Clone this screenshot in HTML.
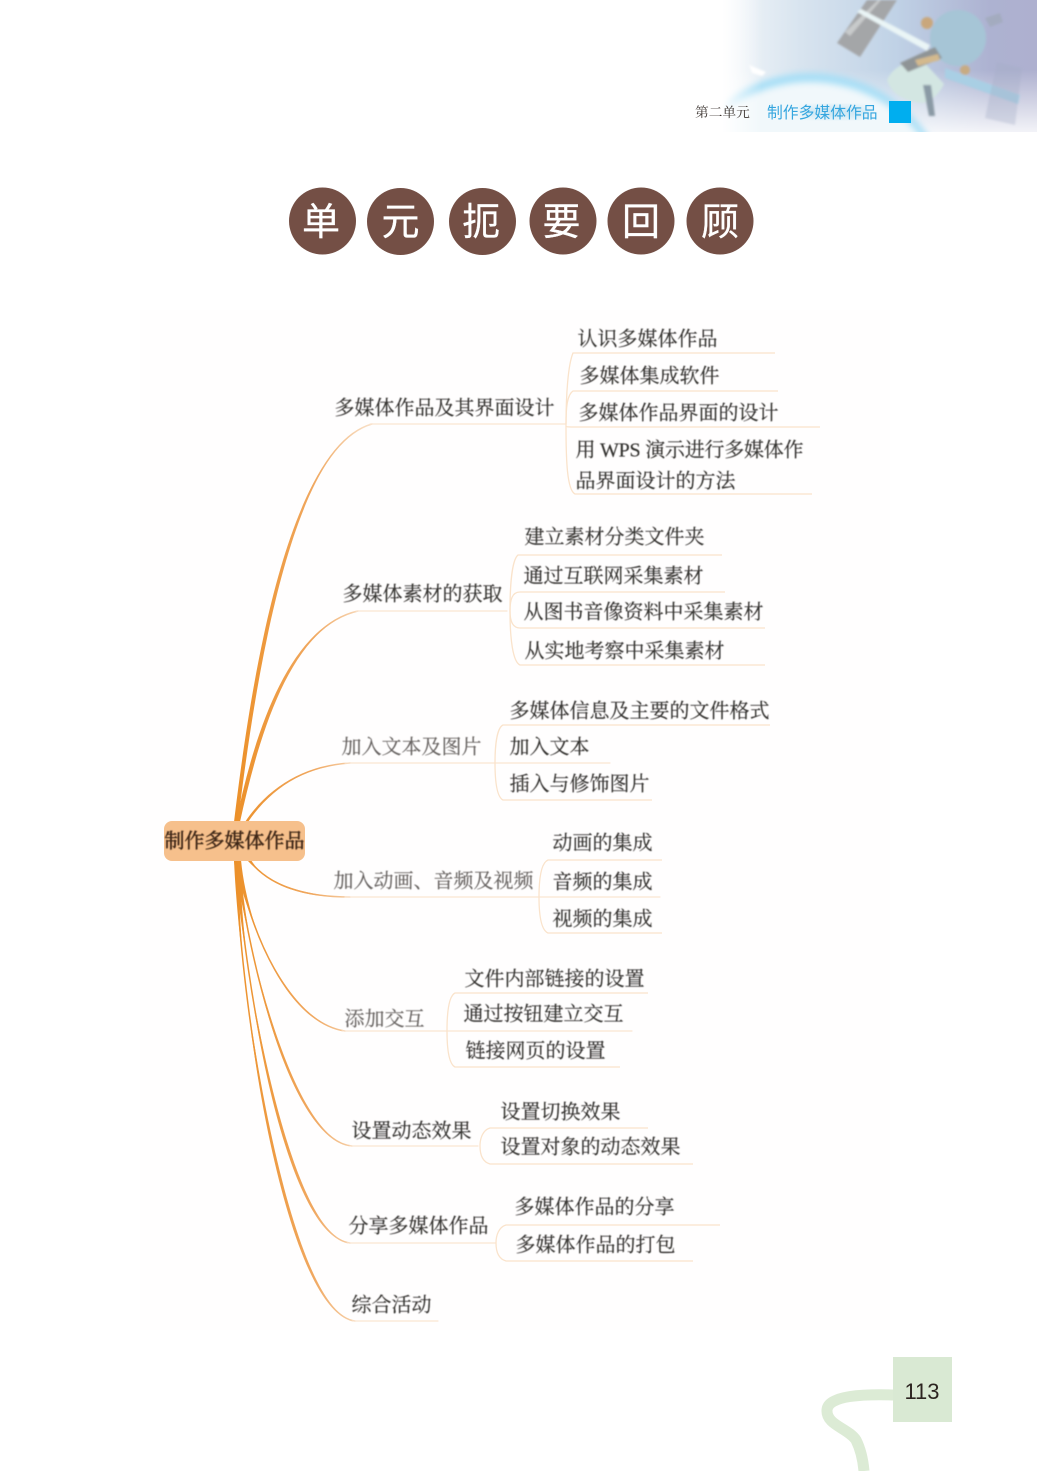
<!DOCTYPE html>
<html lang="zh-CN">
<head>
<meta charset="utf-8">
<title>单元扼要回顾</title>
<style>
html,body{margin:0;padding:0;background:#fff;width:1037px;height:1471px;overflow:hidden}
svg{display:block}
.t{font-family:"Liberation Serif","Noto Serif CJK SC",serif;font-size:20px;fill:#33302e;stroke:#33302e;stroke-width:.15}
.l{fill:#686462;stroke:#686462}
.c{font-family:"Liberation Sans","Noto Sans CJK SC",sans-serif;font-size:38px;fill:#fff;text-anchor:middle;stroke:#fff;stroke-width:.3}
.s{fill:none;stroke:#fae6d2;stroke-width:1.2;stroke-linecap:round}
.b{fill:none;stroke:#fae3cb;stroke-width:1.3}
</style>
</head>
<body>
<svg width="1037" height="1471" viewBox="0 0 1037 1471" xmlns="http://www.w3.org/2000/svg">
<defs>
<linearGradient id="fade" x1="0" x2="1" y1="0" y2="0">
<stop offset="0" stop-color="#f3f7fa"/>
<stop offset=".25" stop-color="#d8e4ef"/>
<stop offset=".55" stop-color="#c0d2e6"/>
<stop offset=".85" stop-color="#adb2d1"/>
<stop offset="1" stop-color="#aeb0cf"/>
</linearGradient>
<linearGradient id="white" x1="0" x2="1" y1="0" y2="0">
<stop offset="0" stop-color="#fff"/>
<stop offset="1" stop-color="#fff" stop-opacity="0"/>
</linearGradient>
<linearGradient id="low" x1="0" x2="0" y1="0" y2="1">
<stop offset="0" stop-color="#fff" stop-opacity="0"/>
<stop offset="1" stop-color="#fff" stop-opacity=".85"/>
</linearGradient>
<linearGradient id="br" gradientUnits="userSpaceOnUse" x1="236" x2="365" y1="0" y2="0">
<stop offset="0" stop-color="#ec9029"/>
<stop offset=".6" stop-color="#f0a860"/>
<stop offset="1" stop-color="#f8dcc0"/>
</linearGradient>
<filter id="b3" x="-20%" y="-20%" width="140%" height="140%"><feGaussianBlur stdDeviation="3.5"/></filter>
<filter id="b1" x="-20%" y="-20%" width="140%" height="140%"><feGaussianBlur stdDeviation="1"/></filter>
<filter id="b04" x="-5%" y="-5%" width="110%" height="110%"><feGaussianBlur stdDeviation="0.4"/></filter>
<clipPath id="hc"><rect x="722" y="0" width="315" height="132"/></clipPath>
</defs>

<rect width="1037" height="1471" fill="#fff"/>
<rect x="140" y="310" width="750" height="1020" fill="#fffefe"/>

<!-- header image -->
<g clip-path="url(#hc)">
<rect x="722" y="0" width="315" height="132" fill="url(#fade)"/>
<rect x="722" y="70" width="315" height="62" fill="url(#low)"/>
<circle cx="810" cy="215" r="142" fill="#a6def6" filter="url(#b3)"/>
<circle cx="810" cy="222" r="140" fill="#f1f8fb" filter="url(#b3)"/>
<ellipse cx="835" cy="112" rx="36" ry="6" fill="#bfe0ef" opacity=".7" filter="url(#b3)"/>
<g filter="url(#b1)">
<polygon points="837,43 867,0 897,0 860,57" fill="#a4a6a8"/>
<polygon points="845,32 878,0 881,0 850,36" fill="#c8cacb"/>
<polygon points="857,12 861,9 930,45 927,51" fill="#eaf5f6"/>
<circle cx="958" cy="38" r="28" fill="#a6c5d6"/>
<polygon points="985,18 1000,13 1003,22 990,27" fill="#9aa6ae" opacity=".5"/>
<path d="M887 80 Q895 62 922 60 L944 84 Q936 100 923 103 Q893 100 887 80Z" fill="#d3e6e2"/>
<polygon points="900,63 935,47 942,58 908,72" fill="#8f9496"/>
<polygon points="915,60 938,54 940,60 918,66" fill="#d3b98e"/>
<polygon points="945,68 1020,95 1018,104 945,78" fill="#a9cfe4"/>
<polygon points="997,62 1022,68 1015,125 985,118" fill="#a4abc6" opacity=".35"/>
<polygon points="923,85 931,85 935,116 929,116" fill="#8a9aa5"/>
<circle cx="927" cy="23" r="6" fill="#c9a77c"/>
<circle cx="965" cy="70" r="5" fill="#c7ab83"/>
<polygon points="749,65 766,72 762,76 752,73" fill="#fff"/>
</g>
<rect x="722" y="0" width="40" height="132" fill="url(#white)"/>
</g>
<text x="695" y="117" font-family="'Liberation Serif','Noto Serif CJK SC',serif" font-size="13.7" fill="#3b3430">第二单元</text>
<text x="767" y="118" font-family="'Liberation Sans','Noto Sans CJK SC',sans-serif" font-size="15.8" fill="#35a6df">制作多媒体作品</text>
<rect x="889" y="101" width="22" height="22" fill="#00aeef"/>

<!-- title -->
<g fill="#744f45">
<circle cx="322.5" cy="221" r="33.5"/>
<circle cx="400.5" cy="221.5" r="33.5"/>
<circle cx="482.5" cy="221.5" r="33.5"/>
<circle cx="563" cy="221" r="33.5"/>
<circle cx="641" cy="221" r="33.5"/>
<circle cx="720" cy="221" r="33.5"/>
</g>
<text class="c" x="321" y="235">单</text>
<text class="c" x="400.5" y="235">元</text>
<text class="c" x="481" y="235">扼</text>
<text class="c" x="561.5" y="235">要</text>
<text class="c" x="641" y="235">回</text>
<text class="c" x="720" y="235">顾</text>

<!-- main branches: tapered root fills -->
<g fill="url(#br)">
<path d="M234 822 C250 690 285 450 372 424 C290 446 254 690 238 822Z"/>
<path d="M236 822 C255 730 290 625 358 611 C292 627 260 730 240 822Z"/>
<path d="M245 822 C270 785 305 766 350 763 C305 767 272 787 248 822Z"/>
<path d="M247 860 C270 885 305 896 350 897 C305 898 268 887 251 860Z"/>
<path d="M234 860 C250 930 290 1022 345 1031 C288 1024 248 932 241 860Z"/>
<path d="M234 860 C250 960 295 1140 352 1146 C292 1142 246 962 240 860Z"/>
<path d="M234 860 C245 980 290 1235 350 1243 C286 1238 241 982 240 860Z"/>
<path d="M234 860 C240 1000 290 1312 355 1321 C286 1315 236 1002 239 860Z"/>
</g>
<!-- constant-width strokes over them -->
<g fill="none" stroke="url(#br)" stroke-width="1.5" stroke-linecap="round">
<path d="M236 822 C252 690 287 448 372 424"/>
<path d="M238 822 C257 730 291 626 358 611"/>
<path d="M246.500 822 C271 786 305 766 350 763"/>
<path d="M249 860 C269 886 305 897 350 897"/>
<path d="M237 860 C249 931 289 1023 345 1031"/>
<path d="M237 860 C248 961 293 1141 352 1146"/>
<path d="M237 860 C243 981 288 1236 350 1243"/>
<path d="M236.500 860 C238 1001 288 1313 355 1321"/>
</g>

<!-- horizontal branch lines -->
<g class="s">
<path d="M370 424H566"/>
<path d="M356 611H507"/>
<path d="M345 763H610"/>
<path d="M345 897H660"/>
<path d="M342 1031H632"/>
<path d="M350 1146H478"/>
<path d="M347 1243H496"/>
<path d="M352 1321H438"/>
</g>

<!-- brackets -->
<g class="b">
<path d="M566 426C566 395 568 365 573 353H775"/>
<path d="M566 424C566 408 567 395 573 391H778"/>
<path d="M566 426C566 427 570 427 575 427H820"/>
<path d="M566 426C566 460 567 490 575 494H812"/>
<path d="M510 611C510 585 512 560 518 555H722"/>
<path d="M510 611C510 600 512 592 520 592H725"/>
<path d="M510 611C510 620 512 628 520 628H765"/>
<path d="M510 611C510 640 513 662 520 665H765"/>
<path d="M495 763C495 745 497 728 503 725H770"/>
<path d="M495 763C495 782 497 797 503 800H652"/>
<path d="M539 897C539 880 541 863 548 860H662"/>
<path d="M539 897C539 915 541 930 548 933H662"/>
<path d="M447 1031C447 1012 449 996 455 993H648"/>
<path d="M447 1031C447 1050 449 1064 455 1067H620"/>
<path d="M480 1146C480 1138 483 1130 490 1128H648"/>
<path d="M480 1146C480 1155 483 1162 490 1164H693"/>
<path d="M496 1243C496 1235 499 1227 506 1225H720"/>
<path d="M496 1243C496 1252 499 1259 506 1261H693"/>
</g>

<!-- root -->
<rect x="164" y="821" width="141" height="40" rx="8" fill="#f6c08c"/>

<g filter="url(#b04)" transform="translate(-0.5 0.5)">
<text x="165" y="847" font-family="'Liberation Serif','Noto Serif CJK SC',serif" font-size="20" fill="#3f2817" stroke="#3f2817" stroke-width=".5">制作多媒体作品</text>

<text class="t" x="578" y="345">认识多媒体作品</text>
<text class="t" x="580" y="382">多媒体集成软件</text>
<text class="t" x="579" y="419">多媒体作品界面的设计</text>
<text class="t" x="576" y="456" textLength="228" lengthAdjust="spacing">用 WPS 演示进行多媒体作</text>
<text class="t" x="576" y="487">品界面设计的方法</text>
<text class="t" x="335" y="414">多媒体作品及其界面设计</text>

<text class="t" x="343" y="600">多媒体素材的获取</text>
<text class="t" x="525" y="543">建立素材分类文件夹</text>
<text class="t" x="524" y="582">通过互联网采集素材</text>
<text class="t" x="524" y="618">从图书音像资料中采集素材</text>
<text class="t" x="525" y="657">从实地考察中采集素材</text>

<text class="t l" x="342" y="753">加入文本及图片</text>
<text class="t" x="510" y="717">多媒体信息及主要的文件格式</text>
<text class="t" x="510" y="753">加入文本</text>
<text class="t" x="510" y="790">插入与修饰图片</text>

<text class="t l" x="334" y="887">加入动画、音频及视频</text>
<text class="t" x="553" y="849">动画的集成</text>
<text class="t" x="553" y="888">音频的集成</text>
<text class="t" x="553" y="925">视频的集成</text>

<text class="t l" x="345" y="1025">添加交互</text>
<text class="t" x="465" y="985">文件内部链接的设置</text>
<text class="t" x="464" y="1020">通过按钮建立交互</text>
<text class="t" x="466" y="1057">链接网页的设置</text>

<text class="t" x="352" y="1137">设置动态效果</text>
<text class="t" x="501" y="1118">设置切换效果</text>
<text class="t" x="501" y="1153">设置对象的动态效果</text>

<text class="t" x="349" y="1232">分享多媒体作品</text>
<text class="t" x="515" y="1213">多媒体作品的分享</text>
<text class="t" x="516" y="1251">多媒体作品的打包</text>

<text class="t" x="352" y="1311">综合活动</text>
</g>

<!-- page number -->
<path d="M895 1395C865 1394 828 1395 827 1410C826 1425 848 1428 856 1440C861 1450 863 1460 864 1471" fill="none" stroke="#dcebd5" stroke-width="11"/>
<rect x="893" y="1357" width="59" height="65" fill="#d9e9d3"/>
<text x="922" y="1399" text-anchor="middle" font-family="'Liberation Sans',sans-serif" font-size="22" fill="#2c2420">113</text>
</svg>
</body>
</html>
